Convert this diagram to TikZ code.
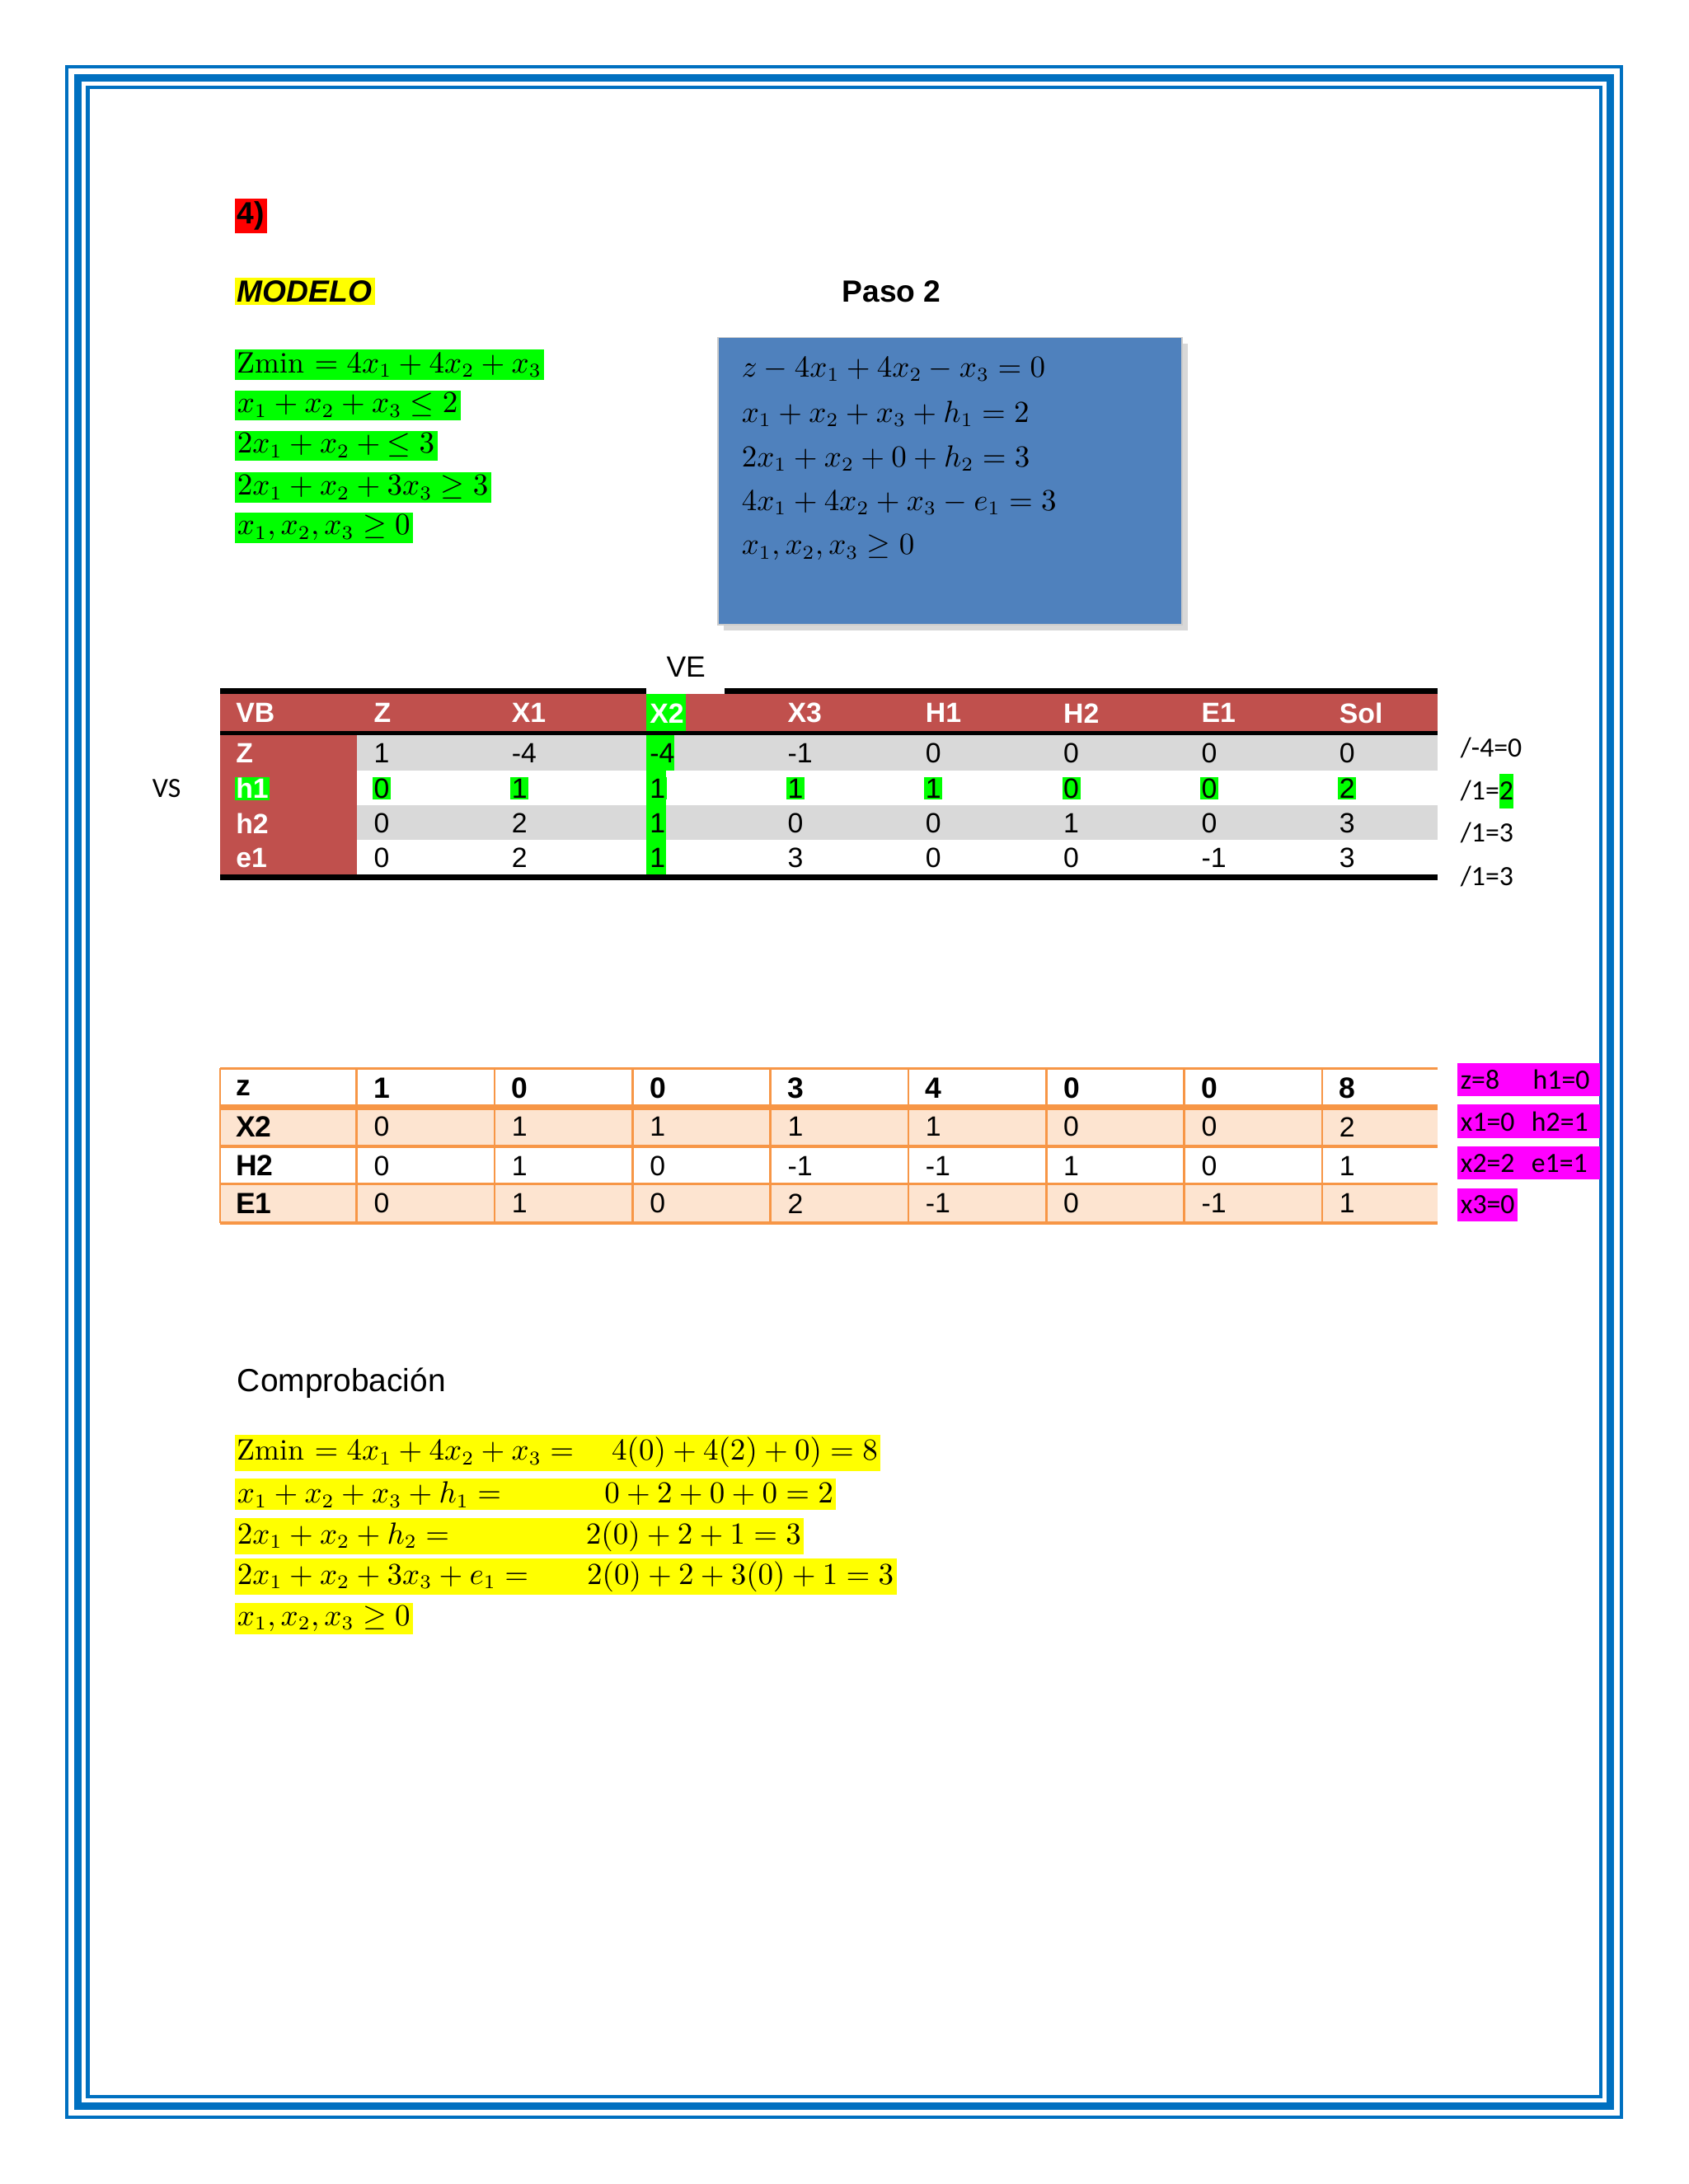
\documentclass[tikz,border=0pt]{standalone}
\usepackage{fontspec}
\setsansfont{Liberation Sans}
\newfontfamily\carl{Carlito}
\usetikzlibrary{shadows}
\definecolor{bord}{HTML}{0070C0}
\definecolor{boxb}{HTML}{4F81BD}
\definecolor{hred}{HTML}{C0504D}
\definecolor{grayr}{HTML}{D9D9D9}
\definecolor{gr}{HTML}{00FF00}
\definecolor{org}{HTML}{F79646}
\definecolor{peach}{HTML}{FDE4D0}
\definecolor{mag}{HTML}{FF00FF}
\definecolor{yel}{HTML}{FFFF00}
\tikzset{
 lab/.style={anchor=west,inner sep=1pt,font=\sffamily\fontsize{10.5}{12}\selectfont},
 eq/.style={anchor=west,inner sep=1pt,font=\fontsize{10.6}{13}\selectfont},
 cell/.style={anchor=west,inner sep=0.5pt,font=\sffamily\fontsize{10}{12}\selectfont},
 hcell/.style={cell,text=white,font=\sffamily\bfseries\fontsize{10}{12}\selectfont},
 bcell/.style={cell,font=\sffamily\bfseries\fontsize{10.5}{12}\selectfont},
 side/.style={anchor=west,inner sep=1pt,font=\carl\fontsize{10}{12}\selectfont},
}
\begin{document}
\begin{tikzpicture}[x=0.5pt,y=-0.5pt]
\useasboundingbox[fill=white] (0,0) rectangle (1212,1568);
% border
\draw[bord,line width=1.2pt] (48,48) rectangle (1164,1520);
\draw[bord,line width=2.8pt] (56,56) rectangle (1156,1512);
\draw[bord,line width=1.2pt] (63,63) rectangle (1149,1505);
% title
\node[lab,fill=red,font=\sffamily\bfseries\fontsize{11}{13}\selectfont] (t4) at (168,155) {4)};
\node[lab,fill=yel,font=\sffamily\bfseries\itshape\fontsize{11}{13}\selectfont] (mod) at (168,209) {MODELO};
\node[font=\sffamily\bfseries\fontsize{11}{13}\selectfont] (paso) at (640,209) {Paso 2};
% model
\foreach \y/\t [count=\i] in {262/{Zmin $=4x_1+4x_2+x_3$},291/{$x_1+x_2+x_3\le 2$},320/{$2x_1+x_2+{\le}\;3$},350/{$2x_1+x_2+3x_3\ge 3$},379/{$x_1,x_2,x_3\ge 0$}}
 \node[eq,fill=gr] (m\i) at (168,\y) {\t};
% blue box
\node[draw=gray!40,fill=boxb,minimum width=333*0.5pt,minimum height=206*0.5pt,anchor=north west,drop shadow={opacity=0.3}] (bx) at (515,242) {};
\foreach \y/\t [count=\i] in {265/{$z-4x_1+4x_2-x_3=0$},297/{$x_1+x_2+x_3+h_1=2$},329/{$2x_1+x_2+0+h_2=3$},361/{$4x_1+4x_2+x_3-e_1=3$},393/{$x_1,x_2,x_3\ge 0$}}
 \node[eq] (b\i) at (530,\y) {\t};
% table 1
\node[lab] (ve) at (476,479) {VE};
\fill[hred] (158,498) rectangle (1032,525);
\fill[hred] (158,528) rectangle (256,628);
\fill[grayr] (256,528) rectangle (1032,553);
\fill[grayr] (256,578) rectangle (1032,603);
\fill[gr] (464,498) rectangle (492,525);
\fill[gr] (464,528) rectangle (484,553);
\fill[gr] (464,553) rectangle (478,628);
\fill[black] (158,494) rectangle (464,498);
\fill[black] (520,494) rectangle (1032,498);
\fill[black] (158,525) rectangle (1032,528);
\fill[black] (158,628) rectangle (1032,632);
\foreach \t [count=\i from 0] in {VB,Z,X1,X2,X3,H1,H2,E1,Sol}
 \node[hcell] (h\i) at (168+99*\i,512) {\t};
\foreach \t [count=\i from 0] in {Z,h1,h2,e1}
 \node[hcell,fill=none] (r\i) at (168,541+25*\i) {\t};
\node[hcell,fill=gr] at (168,566) {h1};
\foreach \a/\b/\c/\d [count=\j from 1] in {1/0/0/0,-4/1/2/2,-4/1/1/1,-1/1/0/3,0/1/0/0,0/0/1/0,0/0/0/-1,0/2/3/3}{
 \node[cell] (c1\j) at (168+99*\j,541) {\a};
 \node[cell,fill=gr] (c2\j) at (168+99*\j,566) {\b};
 \node[cell] (c3\j) at (168+99*\j,591) {\c};
 \node[cell] (c4\j) at (168+99*\j,616) {\d};
}
\node[side] (vs) at (107,566) {VS};
\node[side] (s1) at (1046,537) {/-4=0};
\node[side] (s2) at (1046,568) {/1=\colorbox{gr}{\hspace{-3pt}2\hspace{-3pt}}};
\node[side] (s3) at (1046,598) {/1=3};
\node[side] (s4) at (1046,629) {/1=3};
% table 2
\fill[peach] (158,795) rectangle (1032,823);
\fill[peach] (158,850) rectangle (1032,878);
\foreach \y in {767,795,823,850,878} \draw[org,line width=1pt] (158,\y) -- (1032,\y);
\draw[org,line width=2pt] (158,795) -- (1032,795);
\foreach \x in {158,256,355,454,553,652,751,850,949} \draw[org,line width=0.8pt] (\x,767) -- (\x,878);
\foreach \t [count=\i from 0] in {z,1,0,0,3,4,0,0,8} \node[bcell] (z\i) at (168+99*\i,781) {\t};
\foreach \t [count=\i from 0] in {X2,H2,E1} \node[bcell] (q\i) at (168,809+27.5*\i) {\t};
\foreach \a/\b/\c [count=\j from 1] in {0/0/0,1/1/1,1/0/0,1/-1/2,1/-1/-1,0/1/0,0/0/-1,2/1/1}{
 \node[cell] (d1\j) at (168+99*\j,809) {\a};
 \node[cell] (d2\j) at (168+99*\j,837) {\b};
 \node[cell] (d3\j) at (168+99*\j,864) {\c};
}
\node[side,fill=mag,minimum height=12pt,text width=49pt] (g1) at (1046,775) {z=8\hspace{1.2em}h1=0};
\node[side,fill=mag,minimum height=12pt,text width=49pt] (g2) at (1046,805) {x1=0\hspace{0.6em}h2=1};
\node[side,fill=mag,minimum height=12pt,text width=49pt] (g3) at (1046,835) {x2=2\hspace{0.6em}e1=1};
\node[side,fill=mag,minimum height=12pt] (g4) at (1046,865) {x3=0};
% comprobacion
\node[lab,font=\sffamily\fontsize{11.5}{13}\selectfont] (comp) at (168,993) {Comprobación};
\node[eq,fill=yel] (y1) at (168,1043) {Zmin $=4x_1+4x_2+x_3=\quad 4(0)+4(2)+0)=8$};
\node[eq,fill=yel] (y2) at (168,1073) {$x_1+x_2+x_3+h_1=\hspace{34pt}0+2+0+0=2$};
\node[eq,fill=yel] (y3) at (168,1103) {$2x_1+x_2+h_2=\hspace{46pt}2(0)+2+1=3$};
\node[eq,fill=yel] (y4) at (168,1132) {$2x_1+x_2+3x_3+e_1=\hspace{18pt}2(0)+2+3(0)+1=3$};
\node[eq,fill=yel] (y5) at (168,1162) {$x_1,x_2,x_3\ge 0$};
\end{tikzpicture}
\end{document}
